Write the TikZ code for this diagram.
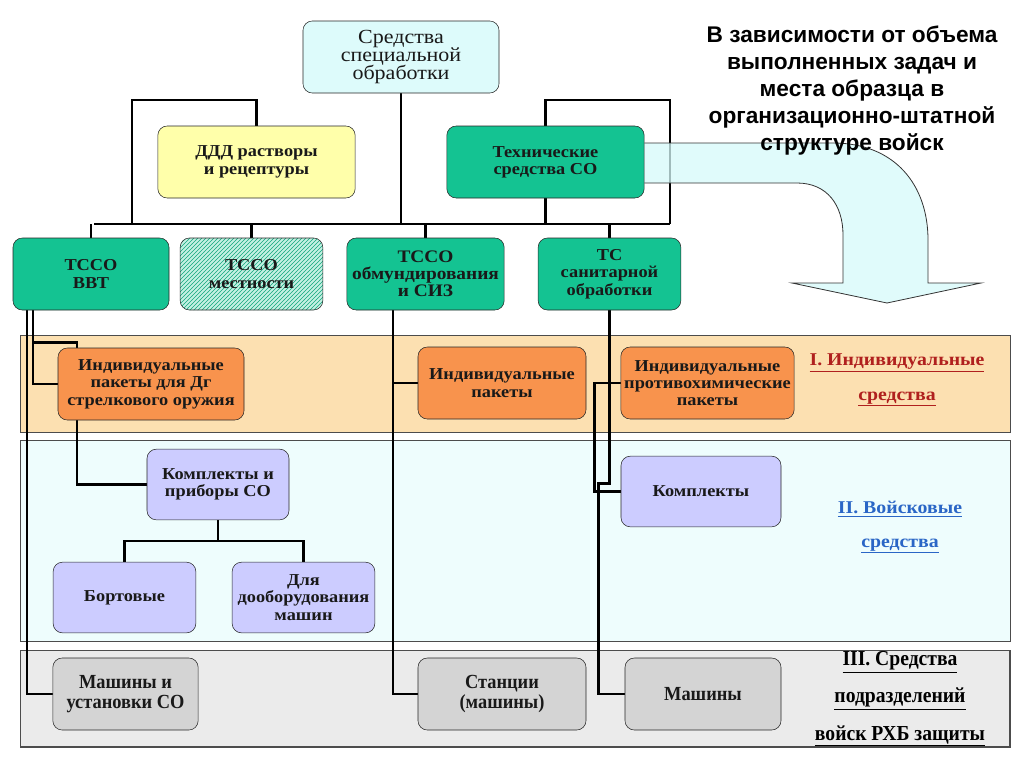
\documentclass[tikz,border=0pt]{standalone}
\usepackage{fontspec}
\setmainfont{Liberation Serif}
\newfontfamily\headfont{Liberation Sans}
\newfontfamily\boxfont[FakeStretch=1.1]{Liberation Serif}
\newfontfamily\narrowfont[FakeStretch=0.92]{Liberation Serif}
\usetikzlibrary{patterns,backgrounds}

\definecolor{topfill}{HTML}{DDFBFB}
\definecolor{yellowfill}{HTML}{FFFFAA}
\definecolor{tealfill}{HTML}{14C392}
\definecolor{hatchfill}{HTML}{C4F1E3}
\definecolor{orangefill}{HTML}{F8934D}
\definecolor{lilacfill}{HTML}{CCCCFF}
\definecolor{grayfill}{HTML}{D4D4D4}
\definecolor{bandone}{HTML}{FCE0B1}
\definecolor{bandtwo}{HTML}{EEFDFD}
\definecolor{bandthree}{HTML}{EBEBEB}
\definecolor{labred}{HTML}{B0201E}
\definecolor{labblue}{HTML}{2A66C6}
\definecolor{arrowfill}{HTML}{D6FAFA}

\tikzset{
  box/.style={draw=black!85, rounded corners=7pt, align=center, inner sep=1pt,
    minimum height=54pt, font=\boxfont\bfseries\fontsize{12.5}{13}\selectfont, text=black!90},
  topbox/.style={box, fill=topfill, font=\boxfont\fontsize{15}{13.8}\selectfont},
  yellowbox/.style={box, fill=yellowfill},
  tealbox/.style={box, fill=tealfill},
  hatchbox/.style={box, preaction={fill=hatchfill}, pattern=north east lines, pattern color=tealfill!85!black},
  orangebox/.style={box, fill=orangefill},
  lilacbox/.style={box, fill=lilacfill, minimum height=53pt},
  graybox/.style={box, fill=grayfill, font=\narrowfont\bfseries\fontsize{15}{15}\selectfont},
  conn/.style={line width=2pt, black},
  band/.style={draw=black!70, line width=0.7pt},
  lab/.style={font=\boxfont\bfseries\fontsize{13.5}{14}\selectfont},
  labthree/.style={font=\narrowfont\bfseries\fontsize{16}{16}\selectfont},
  bigarrow/.style={draw=black!80, line width=0.6pt, fill=arrowfill, fill opacity=0.75}
}

\begin{document}
\begin{tikzpicture}[x=0.75pt,y=-0.75pt]
  \useasboundingbox (0,0) rectangle (1024,768);

  \node[topbox, minimum width=147pt] (top) at (401,57) {Средства\\специальной\\обработки};
  \node[yellowbox, minimum width=148pt] (ddd) at (256.5,162) {ДДД растворы\\и рецептуры};
  \node[tealbox, minimum width=148pt] (tech) at (545.5,162) {Технические\\средства СО};

  \node[tealbox, minimum width=117pt] (vvt) at (91,274) {ТССО\\ВВТ};
  \node[hatchbox, minimum width=107pt] (mest) at (251.5,274) {ТССО\\местности};
  \node[tealbox, minimum width=118pt, font=\boxfont\bfseries\fontsize{13.2}{12.6}\selectfont] (obm) at (425.5,274) {ТССО\\обмундирования\\и СИЗ};
  \node[tealbox, minimum width=107pt] (san) at (609.5,274) {ТС\\санитарной\\обработки};

  \node[orangebox, minimum width=139.5pt] (ip1) at (151,384) {Индивидуальные\\пакеты для Дг\\стрелкового оружия};
  \node[orangebox, minimum width=126pt] (ip2) at (502,383) {Индивидуальные\\пакеты};
  \node[orangebox, minimum width=130pt] (ipp) at (707.5,383) {Индивидуальные\\противохимические\\пакеты};

  \node[lilacbox, minimum width=106.5pt] (kp) at (218,484.5) {Комплекты и\\приборы СО};
  \node[lilacbox, minimum width=107pt] (bort) at (124.5,597.5) {Бортовые};
  \node[lilacbox, minimum width=107pt] (doob) at (303.5,597.5) {Для\\дооборудования\\машин};
  \node[lilacbox, minimum width=120pt] (kompl) at (701,491.5) {Комплекты};

  \node[graybox, minimum width=109pt] (mash1) at (125.5,694) {Машины и\\установки СО};
  \node[graybox, minimum width=126pt] (stan) at (502,694) {Станции\\(машины)};
  \node[graybox, minimum width=117pt] (mash2) at (703,694) {Машины};

  \node[lab, text=labred] (l1a) at (897,363) {\underline{I. Индивидуальные}};
  \node[lab, text=labred] (l1b) at (897,399) {\underline{средства}};
  \node[lab, text=labblue] (l2a) at (900,509) {\underline{II. Войсковые}};
  \node[lab, text=labblue] (l2b) at (900,546) {\underline{средства}};
  \node[labthree] (l3a) at (900,662) {\underline{III. Средства}};
  \node[labthree] (l3b) at (900,699) {\underline{подразделений}};
  \node[labthree] (l3c) at (900,736) {\underline{войск РХБ защиты}};

  \node[font=\headfont\bfseries\fontsize{17}{20.25}\selectfont, align=center] (head) at (852,91)
    {В зависимости от объема\\выполненных задач и\\места образца в\\организационно-штатной\\структуре войск};

  \begin{scope}[on background layer]
    \fill[bandone, band] (20,335) rectangle (1010,432);
    \fill[bandtwo, band] (20,440) rectangle (1010,641);
    \fill[bandthree, band] (20,650) rectangle (1010,747);
    \draw[black!70, line width=1.5pt] (21,747) -- (1010,747) -- (1010,651);

    \coordinate (busL) at (94,224);
    \coordinate (busR) at (670,224);
    \coordinate (brL) at (132,100);
    \coordinate (brR) at (670,100);

    \draw[conn] (busL) -- (busR);
    \draw[conn] (top.south) -- (top.south |- busL);
    \draw[conn] (ddd.north) |- (brL) -- (brL |- busL);
    \draw[conn] (tech.north) |- (brR) -- (busR);
    \draw[conn] (tech.south) -- (tech.south |- busL);
    \draw[conn] (vvt.north) -- (vvt.north |- busL);
    \draw[conn] (mest.north) -- (mest.north |- busL);
    \draw[conn] (obm.north) -- (obm.north |- busL);
    \draw[conn] (san.north) -- (san.north |- busL);

    \draw[conn] ([xshift=-48pt]vvt.south) |- (mash1.west);
    \draw[conn] ([xshift=-43.5pt]vvt.south) |- (ip1.west);
    \draw[conn] ([xshift=-55.5pt]ip1.north) -- ++(0,-5) -- ++(-44,0);
    \draw[conn] ([xshift=-55.5pt]ip1.south) |- (kp.west);
    \draw[conn] (kp.south) -- ++(0,21) coordinate (kpj);
    \draw[conn] (bort.north) |- (kpj) -| (doob.north);

    \draw[conn] ([xshift=-24.4pt]obm.south) |- (stan.west);
    \draw[conn] (ip2.west) -- ++(-25,0);

    \draw[conn] (san.south) -- ++(0,173) -- ++(-11,0) |- (mash2.west);
    \draw[conn] (ipp.west) -- ++(-26,0) |- (kompl.west);

    \draw[bigarrow] (tech.east |- 0,143) -- (833,143) .. controls (895,143) and (928,185) .. (928,240)
      -- (928,283) -- (981,283) -- (887,303) -- (792,283) -- (843,283) -- (843,235)
      .. controls (843,205) and (827,183) .. (797,183) -- (tech.east |- 0,183);
  \end{scope}
\end{tikzpicture}
\end{document}
